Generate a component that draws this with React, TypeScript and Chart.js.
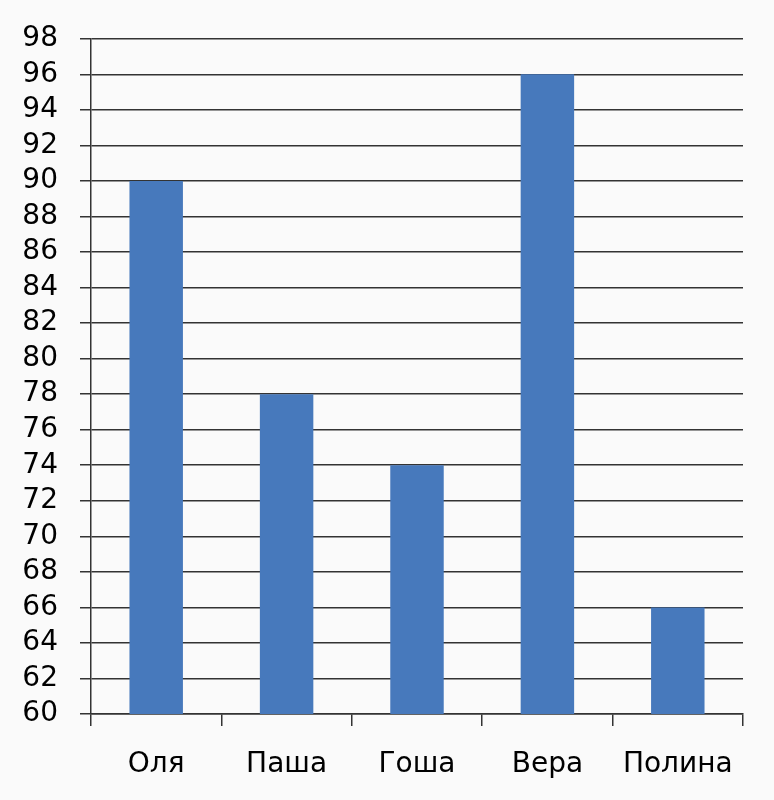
import React, { useEffect, useRef } from "react";
import { Chart, registerables } from "chart.js";

Chart.register(...registerables);

const categories = ["Оля", "Паша", "Гоша", "Вера", "Полина"];
const values = [90, 78, 74, 96, 66];
const yMin = 60;
const yMax = 98;
const yStep = 2;

export default function App() {
  const ref = useRef<HTMLCanvasElement | null>(null);
  useEffect(() => {
    if (!ref.current) return;
    const chart = new Chart(ref.current, {
      type: "bar",
      data: {
        labels: categories,
        datasets: [
          {
            data: values,
            backgroundColor: "#4779BC",
            borderWidth: 0,
            categoryPercentage: 1,
            barPercentage: 0.41,
          },
        ],
      },
      options: {
        animation: false,
        responsive: true,
        maintainAspectRatio: false,
        layout: { padding: { top: 35, right: 31, left: 0, bottom: 0 } },
        plugins: { legend: { display: false }, tooltip: { enabled: false } },
        scales: {
          x: {
            afterFit: (s: any) => {
              s.height = 86;
            },
            grid: {
              display: true,
              offset: true,
              drawOnChartArea: false,
              drawTicks: true,
              tickLength: 12,
              color: "#333",
              lineWidth: 1.5,
            },
            border: { display: true, color: "#333", width: 1.5 },
            ticks: {
              color: "#000",
              padding: 22,
              font: { family: "DejaVu Sans", size: 28 },
              maxRotation: 0,
              autoSkip: false,
            },
          },
          y: {
            min: yMin,
            max: yMax,
            afterFit: (s: any) => {
              s.width = 91;
            },
            grid: {
              color: "#333",
              lineWidth: 1.5,
              drawTicks: true,
              tickLength: 11,
            },
            border: { display: true, color: "#333", width: 1.5 },
            ticks: {
              stepSize: yStep,
              color: "#000",
              padding: 22,
              autoSkip: false,
              font: { family: "DejaVu Sans", size: 28 },
            },
          },
        },
      },
    });
    return () => chart.destroy();
  }, []);
  return (
    <div
      style={{
        position: "absolute",
        left: 0,
        top: 0,
        width: 774,
        height: 800,
        background: "#fafafa",
      }}
    >
      <canvas ref={ref} />
    </div>
  );
}
